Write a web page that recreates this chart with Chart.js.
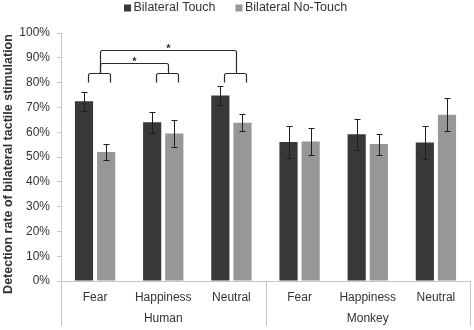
<!DOCTYPE html>
<html>
<head>
<meta charset="utf-8">
<script src="https://cdn.jsdelivr.net/npm/chart.js@4"></script>
<style>
  html, body { margin: 0; padding: 0; background: #fff; }
  #wrap { width: 474px; height: 330px; }
</style>
</head>
<body>
<div id="wrap"><canvas id="detectionChart"></canvas></div>
<script>
// Categories and groups
const emotions = ['Fear', 'Happiness', 'Neutral', 'Fear', 'Happiness', 'Neutral'];
const groups = ['Human', 'Monkey'];

// Mean detection rates (%) and error bar half-widths
const touch = [72.5, 64.0, 74.8, 56.0, 59.2, 55.8];
const noTouch = [52.0, 59.5, 63.8, 56.2, 55.2, 67.0];
const touchErr = [3.9, 4.3, 3.7, 6.4, 6.2, 6.5];
const noTouchErr = [3.4, 5.6, 3.4, 5.5, 4.2, 6.7];

// Significance brackets (Human faces): pair levels and comparison levels in %
const bracketIdx = [0, 1, 2];
const bracketLegLow = 80.0;
const bracketTop = 83.8;
const comparisons = [
    { from: 0, to: 1, level: 87.9, label: '*' },
    { from: 0, to: 2, level: 93.3, label: '*' },
];

const yTicks = [0, 10, 20, 30, 40, 50, 60, 70, 80, 90, 100];
const yTitle = 'Detection rate of bilateral tactile stimulation';

const axisColor = '#c6c6c6';
const textColor = '#333333';
const touchColor = '#383838';
const noTouchColor = '#979797';
const font = 'Liberation Sans, Arial, sans-serif';

// error bars drawn on top of each bar
const errorBars = {
    id: 'errorBars',
    afterDatasetsDraw(chart) {
        const { ctx } = chart;
        const y = chart.scales.y;
        const errs = [touchErr, noTouchErr];
        ctx.save();
        ctx.strokeStyle = '#1e1e1e';
        ctx.lineWidth = 1;
        chart.data.datasets.forEach((ds, di) => {
            const meta = chart.getDatasetMeta(di);
            meta.data.forEach((bar, i) => {
                const v = ds.data[i];
                const e = errs[di][i];
                const yt = Math.round(y.getPixelForValue(v + e)) + 0.5;
                const yb = Math.round(y.getPixelForValue(v - e)) + 0.5;
                const x = Math.round(bar.x) + 0.5;
                ctx.beginPath();
                ctx.moveTo(x, yt);
                ctx.lineTo(x, yb);
                ctx.moveTo(x - 3, yt);
                ctx.lineTo(x + 3, yt);
                ctx.moveTo(x - 3, yb);
                ctx.lineTo(x + 3, yb);
                ctx.stroke();
            });
        });
        ctx.restore();
    }
};

// brackets and stars above the Human bars
const brackets = {
    id: 'brackets',
    afterDatasetsDraw(chart) {
        const { ctx } = chart;
        const y = chart.scales.y;
        const dark = chart.getDatasetMeta(0).data;
        const light = chart.getDatasetMeta(1).data;
        const yLow = y.getPixelForValue(bracketLegLow);
        const yTop = Math.round(y.getPixelForValue(bracketTop)) + 0.5;
        const stems = {};
        ctx.save();
        ctx.strokeStyle = '#2a2a2a';
        ctx.lineWidth = 1.2;
        bracketIdx.forEach(i => {
            const x1 = Math.round(dark[i].x) + 4.5;
            const x2 = Math.round(light[i].x) + 4.5;
            ctx.beginPath();
            ctx.moveTo(x1, yLow);
            ctx.arcTo(x1, yTop, x2, yTop, 2);
            ctx.arcTo(x2, yTop, x2, yLow, 2);
            ctx.lineTo(x2, yLow);
            ctx.stroke();
            stems[i] = Math.round((x1 + x2) / 2) + 0.5;
        });
        comparisons.forEach(c => {
            const yl = Math.round(y.getPixelForValue(c.level)) + 0.5;
            const xa = stems[c.from];
            const xb = stems[c.to];
            ctx.beginPath();
            ctx.moveTo(xa, yTop);
            ctx.arcTo(xa, yl, xb, yl, 2);
            ctx.arcTo(xb, yl, xb, yTop, 2);
            ctx.lineTo(xb, yTop);
            ctx.stroke();
            ctx.fillStyle = textColor;
            ctx.font = 'bold 11px ' + font;
            ctx.textAlign = 'center';
            ctx.textBaseline = 'middle';
            ctx.fillText(c.label, (xa + xb) / 2, yl - 2);
        });
        ctx.restore();
    }
};

// group separators and group names under the category labels
const groupAxis = {
    id: 'groupAxis',
    afterDraw(chart) {
        const { ctx, chartArea } = chart;
        const x = chart.scales.x;
        const n = emotions.length;
        const per = n / groups.length;
        const step = (chartArea.right - chartArea.left) / n;
        ctx.save();
        ctx.strokeStyle = axisColor;
        ctx.lineWidth = 1;
        for (let g = 0; g <= groups.length; g++) {
            const px = Math.round(x.getPixelForValue(g * per) - step / 2) + 0.5;
            ctx.beginPath();
            ctx.moveTo(px, chartArea.bottom);
            ctx.lineTo(px, chartArea.bottom + 45);
            ctx.stroke();
        }
        ctx.fillStyle = textColor;
        ctx.font = '12px ' + font;
        ctx.textAlign = 'center';
        ctx.textBaseline = 'middle';
        groups.forEach((name, g) => {
            const mid = (x.getPixelForValue(g * per) + x.getPixelForValue(g * per + per - 1)) / 2;
            ctx.fillText(name, mid, chartArea.bottom + 38);
        });
        ctx.restore();
    }
};

// legend row at the top and the rotated y axis title
const legendAndTitle = {
    id: 'legendAndTitle',
    afterDraw(chart) {
        const { ctx, chartArea } = chart;
        const items = chart.data.datasets.map(ds => ({ text: ds.label, color: ds.backgroundColor }));
        const box = 7, gap = 2.5, spacing = 20;
        ctx.save();
        ctx.font = '12.5px ' + font;
        ctx.textBaseline = 'middle';
        ctx.textAlign = 'left';
        const widths = items.map(it => ctx.measureText(it.text).width);
        let total = widths.reduce((a, w) => a + box + gap + w, 0) + spacing * (items.length - 1);
        let cx = Math.round(chart.width / 2 - total / 2) - 1;
        const cy = 8;
        items.forEach((it, i) => {
            ctx.fillStyle = it.color;
            ctx.fillRect(cx, cy - 3.5, box, box);
            ctx.fillStyle = textColor;
            ctx.fillText(it.text, cx + box + gap, cy);
            cx += box + gap + widths[i] + spacing;
        });

        ctx.translate(8.5, chartArea.top + 131);
        ctx.rotate(-Math.PI / 2);
        ctx.font = 'bold 12.5px ' + font;
        ctx.textAlign = 'center';
        ctx.fillText(yTitle, 0, 0);
        ctx.restore();
    }
};

const ctx = document.getElementById('detectionChart').getContext('2d');

const chart = new Chart(ctx, {
    type: 'bar',
    data: {
        labels: emotions,
        datasets: [{
            label: 'Bilateral Touch',
            data: touch,
            backgroundColor: touchColor,
            categoryPercentage: 0.65,
            barPercentage: 0.82,
        }, {
            label: 'Bilateral No-Touch',
            data: noTouch,
            backgroundColor: noTouchColor,
            categoryPercentage: 0.65,
            barPercentage: 0.82,
        }],
    },
    options: {
        responsive: true,
        maintainAspectRatio: false,
        animation: false,
        layout: {
            padding: { left: 0, right: 4, top: 33, bottom: 9 },
        },
        plugins: {
            legend: { display: false },
            tooltip: { enabled: false },
        },
        scales: {
            x: {
                grid: { display: false },
                border: { display: true, color: axisColor },
                afterFit(scale) {
                    scale.height = 40;
                },
                ticks: {
                    color: textColor,
                    padding: 1,
                    maxRotation: 0,
                    font: { family: font, size: 12 },
                },
            },
            y: {
                min: 0,
                max: 100,
                afterBuildTicks(scale) {
                    scale.ticks = yTicks.map(v => ({ value: v }));
                },
                afterFit(scale) {
                    scale.width = 61;
                },
                grid: {
                    drawOnChartArea: false,
                    drawTicks: true,
                    tickLength: 4,
                    color: axisColor,
                },
                border: { display: true, color: axisColor },
                ticks: {
                    color: textColor,
                    padding: 7,
                    font: { family: font, size: 12 },
                    callback: v => v + '%',
                },
            },
        },
    },
    plugins: [errorBars, brackets, groupAxis, legendAndTitle],
});
</script>
</body>
</html>
